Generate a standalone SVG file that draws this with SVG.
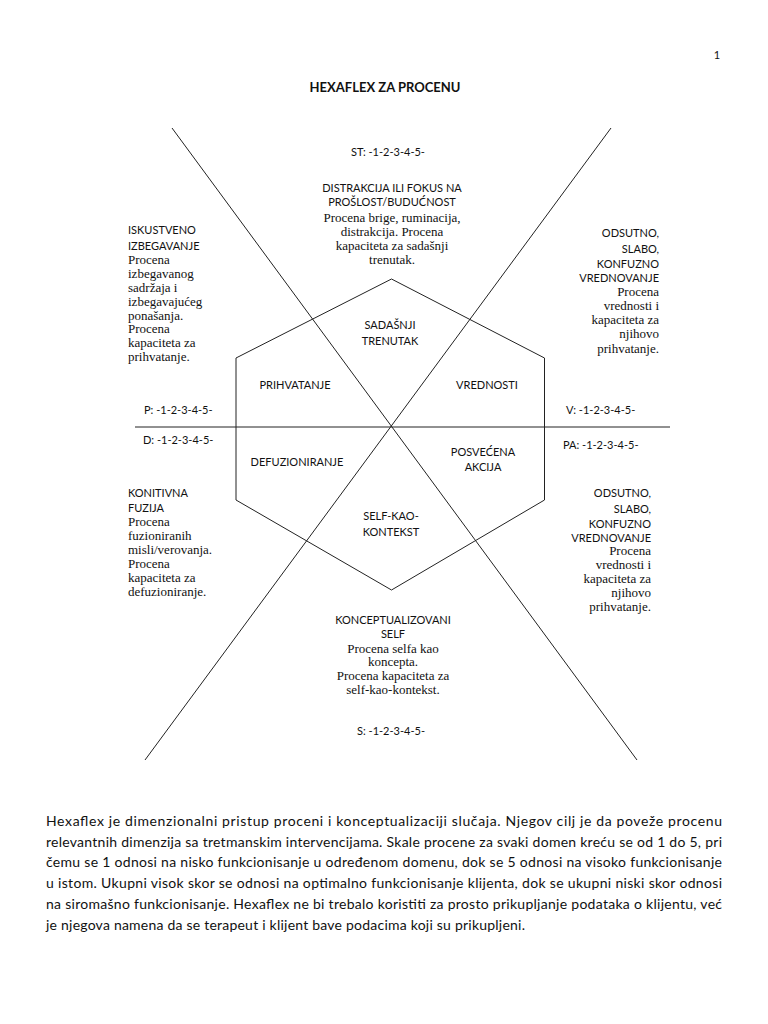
<svg xmlns="http://www.w3.org/2000/svg" width="768" height="1024" viewBox="0 0 768 1024">
<style>
.s{font-family:Lato,"Open Sans","Liberation Sans",sans-serif;font-size:11px;fill:#111}
.b{font-family:Lato,"Open Sans","Liberation Sans",sans-serif;font-size:13px;font-weight:bold;fill:#111}
.r{font-family:"Liberation Serif","Times New Roman",serif;font-size:13px;fill:#111}
.p{font-family:Lato,"Open Sans","Liberation Sans",sans-serif;font-size:14px;fill:#111}
.c{text-anchor:middle}
.e{text-anchor:end}
.ln{stroke:#222;stroke-width:1;fill:none}
</style>
<rect width="768" height="1024" fill="#fff"/>
<text class="s" x="717" y="59" font-size="12" text-anchor="middle">1</text>
<text class="b c" x="385" y="92">HEXAFLEX ZA PROCENU</text>

<g id="connectors">
<line class="ln" x1="172" y1="128" x2="637" y2="760"/>
<line class="ln" x1="611" y1="128" x2="145" y2="760"/>
<line class="ln" x1="135" y1="427" x2="670" y2="427"/>
</g>

<g id="hexagon">
<polygon class="ln" points="391.5,279 544.5,358 544.5,500 391.5,590 236,500 236,358"/>
<text class="s c" x="390" y="329">SADAŠNJI</text>
<text class="s c" x="390" y="345">TRENUTAK</text>
<text class="s c" x="295" y="389">PRIHVATANJE</text>
<text class="s c" x="487" y="389">VREDNOSTI</text>
<text class="s c" x="297" y="466">DEFUZIONIRANJE</text>
<text class="s c" x="483" y="456">POSVEĆENA</text>
<text class="s c" x="483" y="471">AKCIJA</text>
<text class="s c" x="391" y="520">SELF-KAO-</text>
<text class="s c" x="391" y="536">KONTEKST</text>
</g>

<g id="scores">
<text class="s c" x="388" y="156">ST: -1-2-3-4-5-</text>
<text class="s" x="144" y="414">P: -1-2-3-4-5-</text>
<text class="s" x="566" y="414">V: -1-2-3-4-5-</text>
<text class="s" x="143" y="444">D: -1-2-3-4-5-</text>
<text class="s" x="563" y="449">PA: -1-2-3-4-5-</text>
<text class="s c" x="391" y="735">S: -1-2-3-4-5-</text>
</g>

<g id="top-block">
<text class="s c" x="392" y="192">DISTRAKCIJA ILI FOKUS NA</text>
<text class="s c" x="392" y="206">PROŠLOST/BUDUĆNOST</text>
<text class="r c" x="392" y="222">Procena brige, ruminacija,</text>
<text class="r c" x="392" y="236">distrakcija. Procena</text>
<text class="r c" x="392" y="250">kapaciteta za sadašnji</text>
<text class="r c" x="392" y="264">trenutak.</text>
</g>

<g id="left-top-block">
<text class="s" x="128" y="234">ISKUSTVENO</text>
<text class="s" x="128" y="250">IZBEGAVANJE</text>
<text class="r" x="128" y="264">Procena</text>
<text class="r" x="128" y="278">izbegavanog</text>
<text class="r" x="128" y="292">sadržaja i</text>
<text class="r" x="128" y="306">izbegavajućeg</text>
<text class="r" x="128" y="320">ponašanja.</text>
<text class="r" x="128" y="333">Procena</text>
<text class="r" x="128" y="347">kapaciteta za</text>
<text class="r" x="128" y="361">prihvatanje.</text>
</g>

<g id="right-top-block">
<text class="s e" x="659" y="237">ODSUTNO,</text>
<text class="s e" x="659" y="253">SLABO,</text>
<text class="s e" x="659" y="268">KONFUZNO</text>
<text class="s e" x="659" y="282">VREDNOVANJE</text>
<text class="r e" x="659" y="296">Procena</text>
<text class="r e" x="659" y="310">vrednosti i</text>
<text class="r e" x="659" y="324">kapaciteta za</text>
<text class="r e" x="659" y="338">njihovo</text>
<text class="r e" x="659" y="353">prihvatanje.</text>
</g>

<g id="left-bottom-block">
<text class="s" x="128" y="497">KONITIVNA</text>
<text class="s" x="128" y="512">FUZIJA</text>
<text class="r" x="128" y="526">Procena</text>
<text class="r" x="128" y="540">fuzioniranih</text>
<text class="r" x="128" y="554">misli/verovanja.</text>
<text class="r" x="128" y="568">Procena</text>
<text class="r" x="128" y="582">kapaciteta za</text>
<text class="r" x="128" y="596">defuzioniranje.</text>
</g>

<g id="right-bottom-block">
<text class="s e" x="651" y="497">ODSUTNO,</text>
<text class="s e" x="651" y="513">SLABO,</text>
<text class="s e" x="651" y="528">KONFUZNO</text>
<text class="s e" x="651" y="542">VREDNOVANJE</text>
<text class="r e" x="651" y="555">Procena</text>
<text class="r e" x="651" y="569">vrednosti i</text>
<text class="r e" x="651" y="583">kapaciteta za</text>
<text class="r e" x="651" y="597">njihovo</text>
<text class="r e" x="651" y="611">prihvatanje.</text>
</g>

<g id="bottom-block">
<text class="s c" x="393" y="624">KONCEPTUALIZOVANI</text>
<text class="s c" x="393" y="638">SELF</text>
<text class="r c" x="393" y="653">Procena selfa kao</text>
<text class="r c" x="393" y="666">koncepta.</text>
<text class="r c" x="393" y="680">Procena kapaciteta za</text>
<text class="r c" x="393" y="694">self-kao-kontekst.</text>
</g>

<g id="paragraph">
<text class="p" x="46" y="826" textLength="676" lengthAdjust="spacing">Hexaflex je dimenzionalni pristup proceni i konceptualizaciji slučaja. Njegov cilj je da poveže procenu</text>
<text class="p" x="46" y="847" textLength="676" lengthAdjust="spacing">relevantnih dimenzija sa tretmanskim intervencijama. Skale procene za svaki domen kreću se od 1 do 5, pri</text>
<text class="p" x="46" y="867" textLength="676" lengthAdjust="spacing">čemu se 1 odnosi na nisko funkcionisanje u određenom domenu, dok se 5 odnosi na visoko funkcionisanje</text>
<text class="p" x="46" y="888" textLength="676" lengthAdjust="spacing">u istom. Ukupni visok skor se odnosi na optimalno funkcionisanje klijenta, dok se ukupni niski skor odnosi</text>
<text class="p" x="46" y="909" textLength="676" lengthAdjust="spacing">na siromašno funkcionisanje. Hexaflex ne bi trebalo koristiti za prosto prikupljanje podataka o klijentu, već</text>
<text class="p" x="46" y="930" textLength="479" lengthAdjust="spacing">je njegova namena da se terapeut i klijent bave podacima koji su prikupljeni.</text>
</g>
</svg>
